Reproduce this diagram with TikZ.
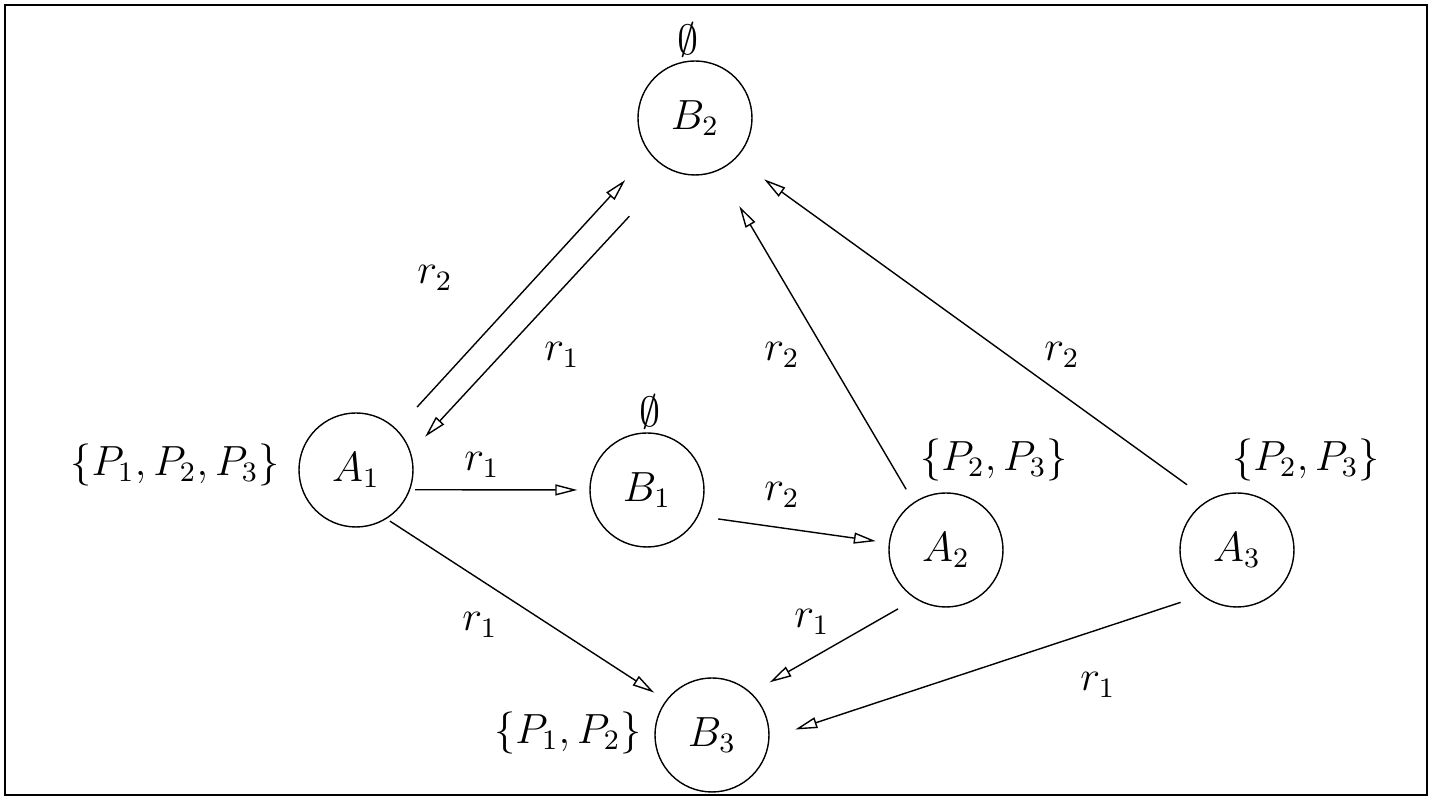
\documentclass[tikz,border=0pt]{standalone}
\usepackage{amsmath}
\usetikzlibrary{arrows.meta}

\begin{document}
\begin{tikzpicture}[x=0.1mm,y=-0.1mm,>={Triangle[open,length=2.2mm,width=1.1mm]},
                    every node/.style={font=\large},
                    state/.style={circle,draw,minimum size=11.4mm,inner sep=0pt},
                    rel/.style={->,shorten <=#1}]

  \draw[line width=0.5pt] (5,5) rectangle (1427,795);

  \node[state] (A1) at (356,470) {$A_1$};
  \node[state] (B1) at (647,490) {$B_1$};
  \node[state] (B2) at (695,118) {$B_2$};
  \node[state] (A2) at (946,550) {$A_2$};
  \node[state] (A3) at (1237,550) {$A_3$};
  \node[state] (B3) at (712,735) {$B_3$};

  % sets
  \node (sA1) at (175,465) {$\{P_1,P_2,P_3\}$};
  \node (sB2) at (688,40) {$\emptyset$};
  \node (sB1) at (650,412) {$\emptyset$};
  \node (sA2) at (994,460) {$\{P_2,P_3\}$};
  \node (sA3) at (1306,460) {$\{P_2,P_3\}$};
  \node (sB3) at (568,733) {$\{P_1,P_2\}$};

  \draw[rel=3mm,shorten >=3.6mm] (A1.45) -- (B2.218);
  \draw[rel=6.2mm,shorten >=2.1mm] (B2.246) -- (A1.18);
  \draw[rel=0.5mm,shorten >=1.2mm] (A1.-20) -- (B1.west);
  \draw[rel=2mm,shorten >=1.3mm] (B1.-27) -- (A2.173);
  \draw[rel=0.4mm,shorten >=1.4mm] (A1.-58) -- (B3.143);
  \draw[rel=2mm,shorten >=2.1mm] (A2.238) -- (B3.47);
  \draw[rel=2.2mm,shorten >=2.7mm] (A3.232) -- (B3.-3);
  \draw[rel=1.5mm,shorten >=4.1mm] (A2.124) -- (B2.-66);
  \draw[rel=2.6mm,shorten >=3.5mm] (A3.120) -- (B2.-45);

  % labels
  \node at (435,278) {$r_2$};
  \node at (562,355) {$r_1$};
  \node at (482,465) {$r_1$};
  \node at (782,495) {$r_2$};
  \node at (480,625) {$r_1$};
  \node at (812,622) {$r_1$};
  \node at (1098,685) {$r_1$};
  \node at (782,355) {$r_2$};
  \node at (1062,355) {$r_2$};

  \useasboundingbox (0,0) rectangle (1432,800);
\end{tikzpicture}
\end{document}
